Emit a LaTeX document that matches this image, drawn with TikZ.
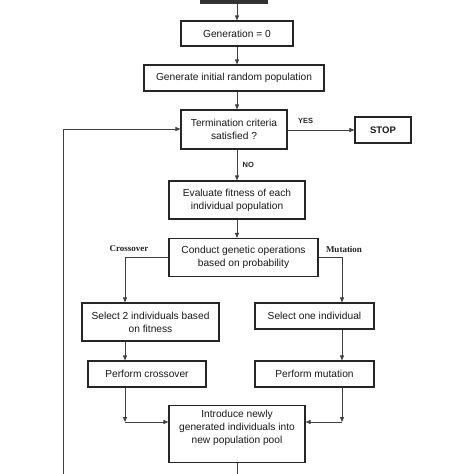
\documentclass[tikz,border=0pt]{standalone}
\usepackage{fontspec}
\setmainfont{Liberation Sans}
\newfontfamily\serifbold{Liberation Serif}
\usetikzlibrary{arrows.meta}
\begin{document}
\begin{tikzpicture}[x=1pt,y=-1pt,
  box/.style={draw=black!85,line width=1.1pt,rectangle,inner sep=0pt,align=center,font=\fontsize{10.2}{12.8}\selectfont,text=black!90},
  conn/.style={draw=black!75,line width=0.8pt},
  arr/.style={conn,-{Triangle[length=5pt,width=4pt]}},
  lab/.style={font=\fontsize{7.5}{8}\selectfont\bfseries,text=black!85},
  slab/.style={font=\fontsize{9}{10}\serifbold\bfseries,text=black!85}]
\useasboundingbox (0,0) rectangle (474,474);
\fill[white] (0,0) rectangle (474,474);
% top dark box
\node[fill=black!80,minimum width=68pt,minimum height=12pt,inner sep=0pt] (start) at (234,-2) {};
\node[box,minimum width=112pt,minimum height=25pt] (gen) at (237,33.5) {Generation = 0};
\node[box,minimum width=180pt,minimum height=26pt] (init) at (234,78) {Generate initial random population};
\node[box,minimum width=106pt,minimum height=39pt] (term) at (234,129.5) {Termination criteria\\satisfied ?};
\node[box,minimum width=56pt,minimum height=26pt,font=\fontsize{9.5}{11}\selectfont\bfseries] (stop) at (383,130) {STOP};
\node[box,minimum width=136pt,minimum height=38pt] (eval) at (237,200) {Evaluate fitness of each\\individual population};
\node[box,minimum width=149pt,minimum height=38pt] (cond) at (243.5,257.5) {Conduct genetic operations\\based on probability};
\node[box,minimum width=137pt,minimum height=38pt] (sel2) at (150.5,322) {Select 2 individuals based\\on fitness};
\node[box,minimum width=119pt,minimum height=26pt] (sel1) at (314.5,316) {Select one individual};
\node[box,minimum width=118pt,minimum height=26pt] (pcross) at (147,374) {Perform crossover};
\node[box,minimum width=119pt,minimum height=26pt] (pmut) at (314.5,374) {Perform mutation};
\node[box,minimum width=136pt,minimum height=57pt,text depth=15pt] (intro) at (237,434) {Introduce newly\\generated individuals into\\new population pool};
% coordinates
\coordinate (mx) at (237,0);
\coordinate (cl) at (125,257);
\coordinate (cr) at (342,257);
\coordinate (jl) at (125,422);
\coordinate (jr) at (342,422);
\coordinate (fb) at (63,474);
\coordinate (fbt) at (63,129);
\coordinate (bot) at (237,474);
% connectors
\draw[arr] (start.south -| mx) -- (gen.north -| mx);
\draw[arr] (gen.south -| mx) -- (init.north -| mx);
\draw[arr] (init.south -| mx) -- (term.north -| mx);
\draw[arr] (term.east |- stop.west) -- node[lab,above,pos=0.27,yshift=3pt]{YES} (stop.west);
\draw[arr] (term.south -| mx) -- node[lab,right,pos=0.5,xshift=2pt]{NO} (eval.north -| mx);
\draw[arr] (eval.south -| mx) -- (cond.north -| mx);
\draw[arr] (cond.west |- cl) -- (cl) -- (cl |- sel2.north);
\draw[arr] (cond.east |- cr) -- (cr) -- (cr |- sel1.north);
\draw[arr] (sel2.south -| cl) -- (cl |- pcross.north);
\draw[arr] (sel1.south -| cr) -- (cr |- pmut.north);
\draw[arr] (pcross.south -| jl) -- (jl);
\draw[arr] (jl) -- (jl -| intro.west);
\draw[arr] (pmut.south -| jr) -- (jr);
\draw[arr] (jr) -- (jr -| intro.east);
\draw[conn] (intro.south) -- (bot);
\draw[arr] (fb) -- (fbt) -- (fbt -| term.west);
\node[slab] (xo) at (129,249) {Crossover};
\node[slab] (mu) at (344,249) {Mutation};
\end{tikzpicture}
\end{document}
